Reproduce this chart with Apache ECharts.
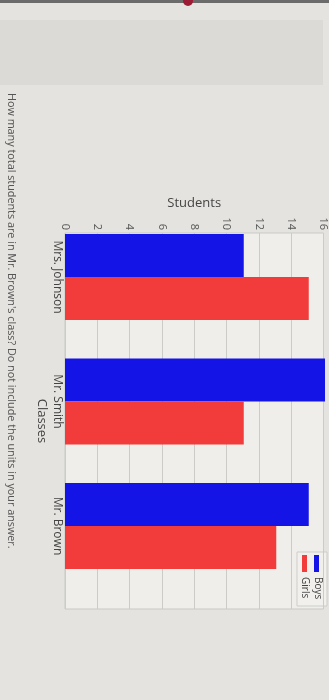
<!DOCTYPE html>
<html>
<head>
<meta charset="utf-8">
<script src="https://cdn.jsdelivr.net/npm/echarts@6/dist/echarts.min.js"></script>
<style>
html,body{margin:0;padding:0;background:#e4e3df;}
#chart{width:329px;height:700px;}
</style>
</head>
<body>
<div id="chart"></div>
<script>
var categories = ['Mrs. Johnson', 'Mr. Smith', 'Mr. Brown'];
var boys = [11, 16, 15];
var girls = [15, 11, 13];
var seriesNames = ['Boys', 'Girls'];
var valueMin = 0, valueMax = 16, valueStep = 2;
var axisTitleX = 'Students';
var axisTitleY = 'Classes';
var question = "How many total students are in Mr. Brown's class? Do not include the units in your answer.";

var BLUE = '#1414e6', RED = '#f23b3b';
var FONT = '"Open Sans", "Noto Sans", sans-serif';

var chart = echarts.init(document.getElementById('chart'), null, {renderer: 'canvas'});
var R = -Math.PI / 2;

chart.setOption({
  backgroundColor: '#e4e3df',
  animation: false,
  textStyle: {fontFamily: FONT},
  grid: [
    {left: 65, right: 4, top: 233, height: 376, show: true, backgroundColor: '#efeeea', borderColor: '#c9c9c6', borderWidth: 1},
    {left: 65, right: 4, top: 214.75, height: 373.5}
  ],
  xAxis: [
    {
      gridIndex: 0, type: 'value', position: 'top', min: valueMin, max: valueMax, interval: valueStep,
      axisLine: {show: false}, axisTick: {show: false},
      axisLabel: {rotate: -90, margin: 3, color: '#555', fontSize: 11, fontFamily: FONT},
      splitLine: {show: true, lineStyle: {color: '#cbcbc8', width: 1}},
      name: axisTitleX, nameLocation: 'middle', nameGap: 13,
      nameTextStyle: {color: '#444', fontSize: 13, fontFamily: FONT}
    },
    {gridIndex: 1, type: 'value', min: valueMin, max: valueMax, show: false}
  ],
  yAxis: [
    {
      gridIndex: 0, type: 'value', min: 0, max: 1,
      axisLine: {show: false}, axisTick: {show: false}, axisLabel: {show: false}, splitLine: {show: false},
      name: axisTitleY, nameLocation: 'middle', nameGap: 17, nameRotate: -90,
      nameTextStyle: {color: '#444', fontSize: 13, fontFamily: FONT}
    },
    {
      gridIndex: 1, type: 'category', data: categories, inverse: true,
      axisLine: {show: false}, axisTick: {show: false}, splitLine: {show: false},
      axisLabel: {rotate: -90, margin: 2, color: '#444', fontSize: 12, fontFamily: FONT}
    }
  ],
  series: [
    {name: seriesNames[0], type: 'bar', xAxisIndex: 1, yAxisIndex: 1, data: boys, barWidth: 43, barGap: '0%', itemStyle: {color: BLUE}},
    {name: seriesNames[1], type: 'bar', xAxisIndex: 1, yAxisIndex: 1, data: girls, barWidth: 43, barGap: '0%', itemStyle: {color: RED}}
  ],
  graphic: [
    {type: 'rect', z: -10, shape: {x: 0, y: 20, width: 323, height: 65}, style: {fill: '#dbdad6'}},
    {type: 'rect', z: -10, shape: {x: 0, y: 0, width: 329, height: 3}, style: {fill: '#6b6b6b'}},
    {type: 'circle', z: -9, shape: {cx: 188, cy: 1, r: 5}, style: {fill: '#9c1c36'}},
    {type: 'text', x: 11, y: 93, rotation: R, style: {text: question, font: '10.8px ' + FONT, fill: '#555', textAlign: 'left', textVerticalAlign: 'middle'}},
    {type: 'rect', shape: {x: 297, y: 552, width: 30, height: 54}, style: {fill: '#f1f0ec', stroke: '#cdcdca', lineWidth: 1}},
    {type: 'rect', shape: {x: 314, y: 555, width: 5, height: 17}, style: {fill: BLUE}},
    {type: 'rect', shape: {x: 302, y: 555, width: 5, height: 17}, style: {fill: RED}},
    {type: 'text', x: 318, y: 577, rotation: R, style: {text: seriesNames[0], font: '10px ' + FONT, fill: '#444', textAlign: 'left', textVerticalAlign: 'middle'}},
    {type: 'text', x: 305, y: 577, rotation: R, style: {text: seriesNames[1], font: '10px ' + FONT, fill: '#444', textAlign: 'left', textVerticalAlign: 'middle'}}
  ]
});
</script>
</body>
</html>
